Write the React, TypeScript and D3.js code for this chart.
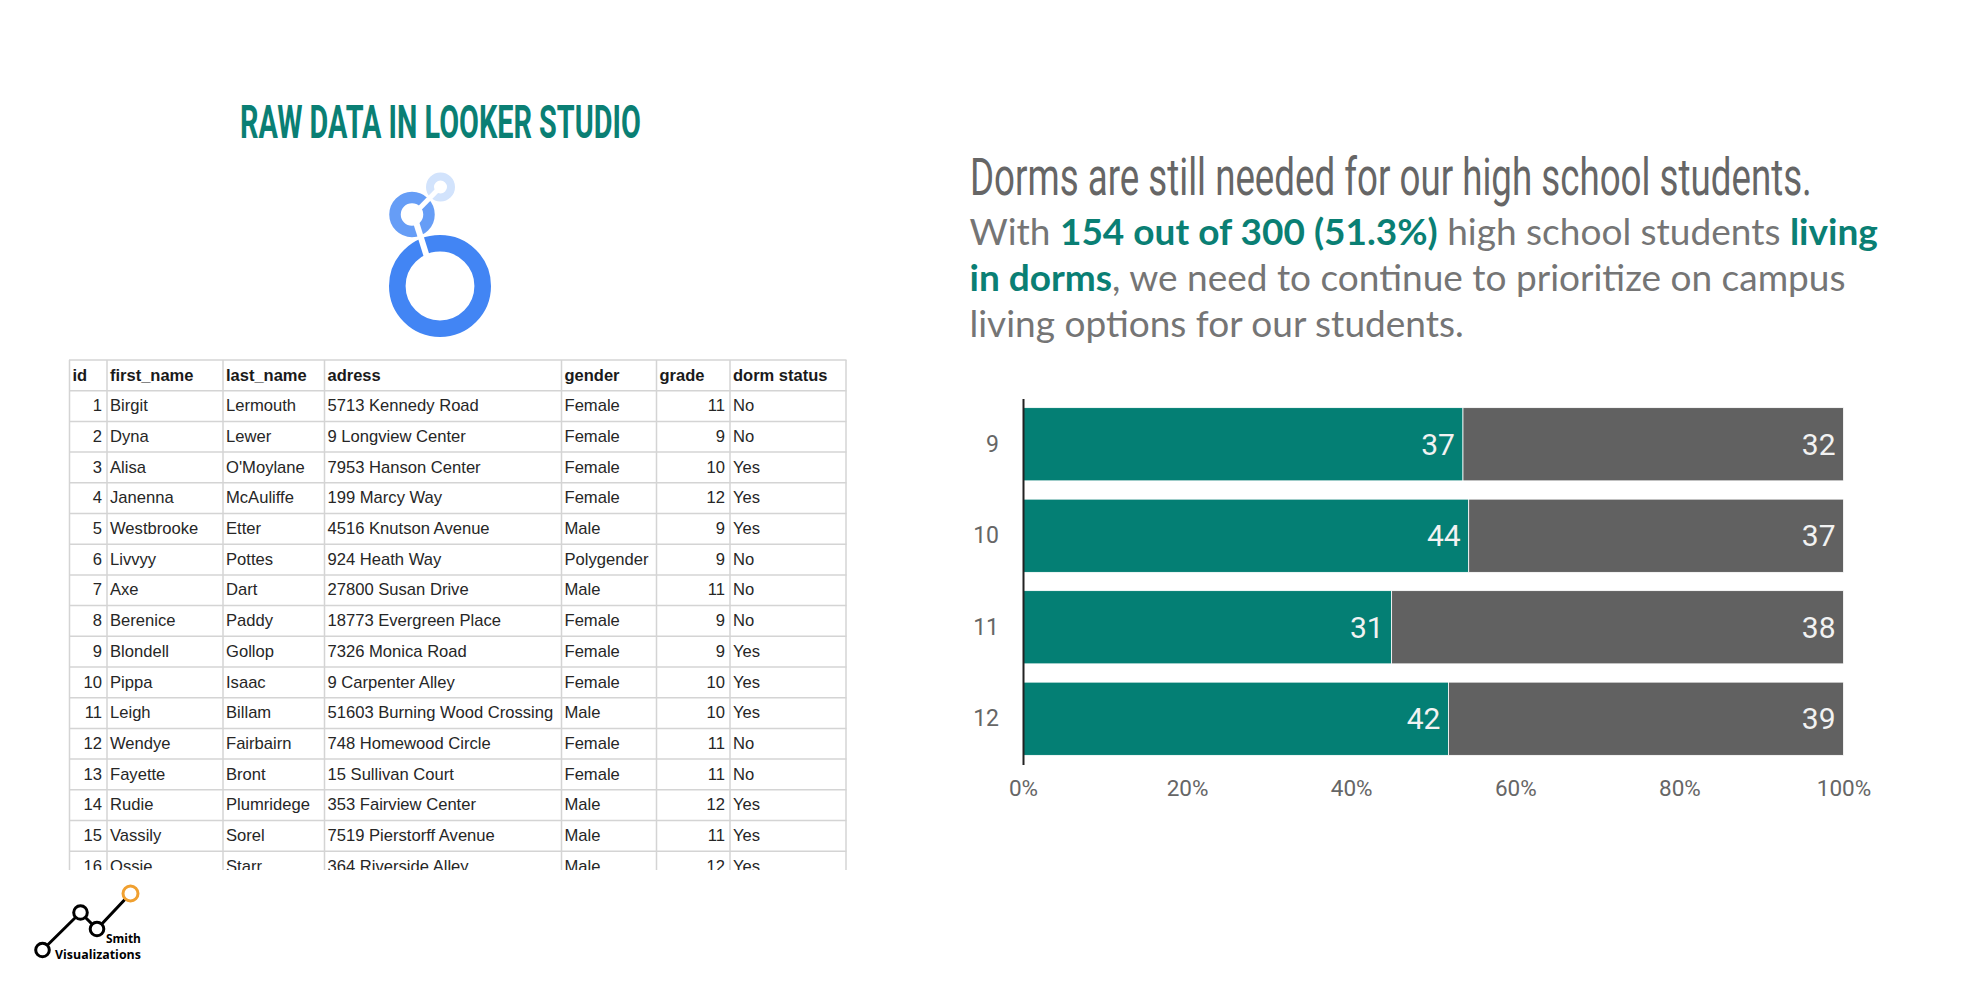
import React, { useEffect, useRef } from 'react';
import * as d3 from 'd3';

const ids = ['1', '2', '3', '4', '5', '6', '7', '8', '9', '10', '11', '12', '13', '14', '15', '16'];
const firstNames = ['Birgit', 'Dyna', 'Alisa', 'Janenna', 'Westbrooke', 'Livvyy', 'Axe', 'Berenice', 'Blondell', 'Pippa', 'Leigh', 'Wendye', 'Fayette', 'Rudie', 'Vassily', 'Ossie'];
const lastNames = ['Lermouth', 'Lewer', "O'Moylane", 'McAuliffe', 'Etter', 'Pottes', 'Dart', 'Paddy', 'Gollop', 'Isaac', 'Billam', 'Fairbairn', 'Bront', 'Plumridege', 'Sorel', 'Starr'];
const addresses = ['5713 Kennedy Road', '9 Longview Center', '7953 Hanson Center', '199 Marcy Way', '4516 Knutson Avenue', '924 Heath Way', '27800 Susan Drive', '18773 Evergreen Place', '7326 Monica Road', '9 Carpenter Alley', '51603 Burning Wood Crossing', '748 Homewood Circle', '15 Sullivan Court', '353 Fairview Center', '7519 Pierstorff Avenue', '364 Riverside Alley'];
const genders = ['Female', 'Female', 'Female', 'Female', 'Male', 'Polygender', 'Male', 'Female', 'Female', 'Female', 'Male', 'Female', 'Female', 'Male', 'Male', 'Male'];
const gradeValues = ['11', '9', '10', '12', '9', '9', '11', '9', '9', '10', '10', '11', '11', '12', '11', '12'];
const dormStatus = ['No', 'No', 'Yes', 'Yes', 'Yes', 'No', 'No', 'No', 'Yes', 'Yes', 'Yes', 'No', 'No', 'Yes', 'Yes', 'Yes'];
const tableHeaders = ['id', 'first_name', 'last_name', 'adress', 'gender', 'grade', 'dorm status'];
const tableColumns = [ids, firstNames, lastNames, addresses, genders, gradeValues, dormStatus];
const rightAligned = [true, false, false, false, false, true, false];
const columnEdges = [69.5, 107, 223, 324.5, 561.5, 656.5, 730, 846];

const grades = ['9', '10', '11', '12'];
const inDorms = [37, 44, 31, 42];
const notInDorms = [32, 37, 38, 39];
const xTicks = [0, 0.2, 0.4, 0.6, 0.8, 1];

const teal = '#047f74';
const grey = '#616161';
const textGrey = '#757575';

const subtitleLines = [
  [['With ', false], ['154 out of 300 (51.3%)', true], [' high school students ', false], ['living', true]],
  [['in dorms', true], [', we need to continue to prioritize on campus', false]],
  [['living options for our students.', false]],
] as [string, boolean][][];

// squeeze a text horizontally to a measured width, no condensed font is installed
function fitText(sel: any, x: number, y: number, width: number) {
  const len = sel.node().getComputedTextLength();
  sel.attr('transform', `translate(${x},${y}) scale(${width / len},1)`);
}

function drawTable(svg: any) {
  const rowY = d3.scaleLinear().domain([0, 1]).range([360, 390.7]);
  svg.append('clipPath').attr('id', 'tableClip')
    .append('rect').attr('x', 60).attr('y', 350).attr('width', 800).attr('height', 520);
  const g = svg.append('g').attr('clip-path', 'url(#tableClip)');

  d3.range(0, 18).forEach(i => {
    g.append('line').attr('x1', 69).attr('x2', 846.5).attr('y1', rowY(i)).attr('y2', rowY(i))
      .attr('stroke', '#d4d4d4').attr('stroke-width', 1.5);
  });
  columnEdges.forEach(x => {
    g.append('line').attr('x1', x).attr('x2', x).attr('y1', 360).attr('y2', 880)
      .attr('stroke', '#d4d4d4').attr('stroke-width', 1.5);
  });

  tableHeaders.forEach((h, c) => {
    g.append('text').attr('x', columnEdges[c] + 3).attr('y', rowY(0) + 20.5)
      .attr('font-family', 'Liberation Sans').attr('font-size', 16.5).attr('font-weight', 700)
      .attr('fill', '#1a1a1a').text(h);
  });
  tableColumns.forEach((values, c) => {
    values.forEach((v, r) => {
      g.append('text')
        .attr('x', rightAligned[c] ? columnEdges[c + 1] - 5 : columnEdges[c] + 3)
        .attr('y', rowY(r + 1) + 20.5)
        .attr('text-anchor', rightAligned[c] ? 'end' : 'start')
        .attr('font-family', 'Liberation Sans').attr('font-size', 16.6)
        .attr('fill', '#262626').text(v);
    });
  });
}

function drawLookerLogo(svg: any) {
  const g = svg.append('g');
  const ring = (cx: number, cy: number, r: number, w: number, c: string) =>
    g.append('circle').attr('cx', cx).attr('cy', cy).attr('r', r).attr('fill', 'none')
      .attr('stroke', c).attr('stroke-width', w);
  ring(440, 286, 42.7, 16.6, '#4285f4');
  ring(412, 214.5, 17, 11.5, '#669df6');
  ring(440.5, 187, 10.5, 8, '#d2e3fc');
  const line = d3.line();
  g.append('path').attr('d', line([[440.5, 187], [412, 216]])).attr('stroke', '#fff').attr('stroke-width', 5).attr('fill', 'none');
  g.append('path').attr('d', line([[416, 222], [427, 257]])).attr('stroke', '#fff').attr('stroke-width', 6).attr('fill', 'none');
}

function drawSmithLogo(svg: any) {
  const g = svg.append('g');
  const pts: [number, number][] = [[42.5, 950], [80.5, 912.5], [97, 929], [130.5, 893.5]];
  g.append('path').attr('d', d3.line()(pts)).attr('fill', 'none').attr('stroke', '#000').attr('stroke-width', 3);
  pts.forEach((p, i) => {
    g.append('circle').attr('cx', p[0]).attr('cy', p[1]).attr('r', i === 3 ? 7.5 : 6.8)
      .attr('fill', '#fff').attr('stroke', i === 3 ? '#f0a030' : '#000').attr('stroke-width', 3);
  });
  const label = (s: string, x: number, y: number, w: number) => {
    const t = g.append('text').attr('font-family', 'Open Sans').attr('font-weight', 700)
      .attr('font-size', 12.5).text(s);
    fitText(t, x, y, w);
  };
  label('Smith', 106, 943, 35);
  label('Visualizations', 55, 958.5, 86);
}

function drawChart(svg: any) {
  const rows = grades.map((g, i) => ({ grade: g, yes: inDorms[i], no: notInDorms[i] }));
  const stack = d3.stack<any>().keys(['yes', 'no']).offset(d3.stackOffsetExpand);
  const series = stack(rows);

  const x = d3.scaleLinear().domain([0, 1]).range([1023, 1843.5]);
  const y = d3.scaleBand().domain(grades).range([398.5, 764.5]).paddingInner(0.2).paddingOuter(0.1);
  const colour = d3.scaleOrdinal<string>().domain(['yes', 'no']).range([teal, grey]);

  const layers = svg.append('g').selectAll('g').data(series).enter().append('g')
    .attr('fill', (d: any) => colour(d.key));

  layers.selectAll('rect').data((d: any) => d).enter().append('rect')
    .attr('x', (d: any) => x(d[0]))
    .attr('y', (d: any) => y(d.data.grade))
    .attr('width', (d: any) => x(d[1]) - x(d[0]))
    .attr('height', y.bandwidth())
    .attr('stroke', '#fff').attr('stroke-width', 0.8);

  layers.selectAll('text').data((d: any) => d.map((p: any) => ({ p, key: d.key }))).enter().append('text')
    .attr('x', (d: any) => x(d.p[1]) - 8)
    .attr('y', (d: any) => y(d.p.data.grade)! + y.bandwidth() / 2 + 10.5)
    .attr('text-anchor', 'end')
    .attr('font-family', 'Roboto').attr('font-size', 30).attr('fill', '#f2f2f2')
    .text((d: any) => d.p.data[d.key]);

  const xAxis = svg.append('g').attr('transform', 'translate(0,764)')
    .call(d3.axisBottom(x).tickValues(xTicks).tickFormat(d3.format('.0%')).tickSize(0).tickPadding(16));
  xAxis.select('.domain').remove();
  xAxis.selectAll('text').attr('font-family', 'Roboto').attr('font-size', 22.5).attr('fill', '#666');

  const yAxis = svg.append('g').attr('transform', 'translate(1023,0)')
    .call(d3.axisLeft(y).tickSize(0).tickPadding(24));
  yAxis.select('.domain').attr('stroke', '#222').attr('stroke-width', 2);
  yAxis.selectAll('text').attr('font-family', 'Roboto').attr('font-size', 23).attr('fill', '#666');
}

function drawText(svg: any) {
  const heading = svg.append('text')
    .attr('font-family', 'Roboto').attr('font-weight', 700).attr('font-size', 46)
    .attr('fill', '#0a7f74').text('RAW DATA IN LOOKER STUDIO');
  fitText(heading, 240, 138, 401);

  const title = svg.append('text')
    .attr('font-family', 'Roboto').attr('font-weight', 400).attr('font-size', 51)
    .attr('fill', '#666').text('Dorms are still needed for our high school students.');
  fitText(title, 970, 195, 842);

  const lineY = [245, 290.5, 336.5];
  subtitleLines.forEach((parts, i) => {
    const t = svg.append('text').attr('x', 969.5).attr('y', lineY[i])
      .attr('font-family', 'Lato').attr('font-size', 37).attr('xml:space', 'preserve');
    parts.forEach(([s, bold]) => {
      t.append('tspan').attr('fill', bold ? '#0a7f74' : textGrey)
        .attr('font-weight', bold ? 700 : 400).text(s);
    });
  });
}

export default function App() {
  const ref = useRef<SVGSVGElement>(null);

  useEffect(() => {
    const svg = d3.select(ref.current);
    svg.selectAll('*').remove();
    drawText(svg);
    drawLookerLogo(svg);
    drawTable(svg);
    drawSmithLogo(svg);
    drawChart(svg);
  }, []);

  return <svg ref={ref} width={1964} height={992} style={{ position: 'absolute', left: 0, top: 0, background: '#fff' }} />;
}
